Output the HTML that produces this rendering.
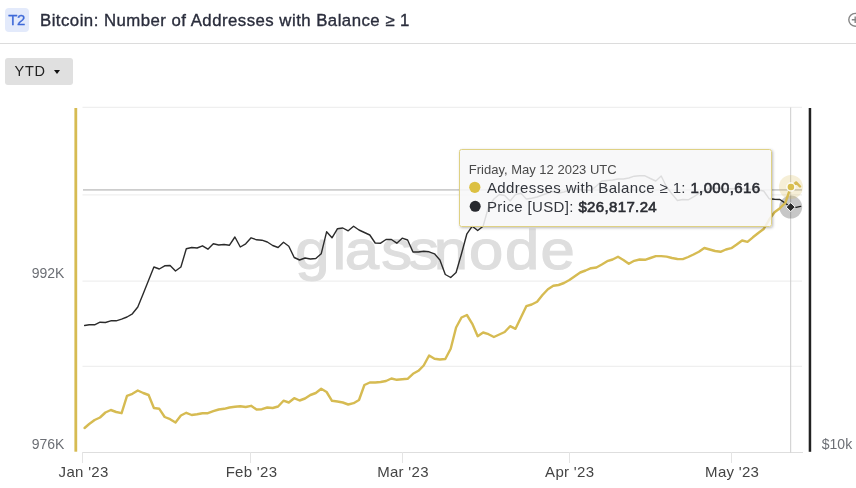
<!DOCTYPE html>
<html lang="en">
<head>
<meta charset="utf-8">
<title>Bitcoin: Number of Addresses with Balance ≥ 1</title>
<style>
html,body{margin:0;padding:0;background:#fff;}
body{width:856px;height:488px;overflow:hidden;position:relative;font-family:"Liberation Sans", Arial, Helvetica, sans-serif;}
.abs{position:absolute;white-space:nowrap;}
#badge{left:5px;top:7.5px;width:24px;height:24px;border-radius:4px;background:#e3eafb;color:#3f6ad8;font-size:15px;line-height:23.4px;text-align:center;letter-spacing:-0.4px;text-indent:-1px;-webkit-text-stroke:0.3px #3f6ad8;}
#title{left:40px;top:10.1px;font-size:16.8px;line-height:22px;color:#2a2d3c;letter-spacing:0.47px;-webkit-text-stroke:0.35px #2a2d3c;}
#rule{left:0;top:43px;width:856px;height:1px;background:#dcdcdc;}
#ytd{left:5px;top:58px;width:68px;height:27px;border-radius:3px;background:#e0e0e0;}
#ytdtxt{left:14.6px;top:62.4px;font-size:14.5px;line-height:19px;color:#222;letter-spacing:0.75px;}
#caret{left:53.5px;top:70px;width:0;height:0;border-left:3px solid transparent;border-right:3px solid transparent;border-top:4px solid #111;}
svg{position:absolute;left:0;top:0;}
svg text{font-family:"Liberation Sans", Arial, Helvetica, sans-serif;}
#tip{left:458.6px;top:148.7px;width:311px;height:75.9px;border:1.6px solid #dfd184;border-radius:2.5px;background:rgba(247,247,248,0.87);box-shadow:1px 1px 3px rgba(0,0,0,0.28);}
.t1{left:468.8px;top:161.8px;font-size:13px;line-height:16px;color:#4a4a4a;letter-spacing:0px;}
.t2{left:487px;top:177.8px;font-size:15px;line-height:19px;color:#33363d;letter-spacing:0.36px;}
.t3{left:487px;top:197.0px;font-size:15px;line-height:19px;color:#33363d;letter-spacing:0.36px;}
.t2 b,.t3 b{color:#2a2c33;font-weight:normal;-webkit-text-stroke:0.6px #2a2c33;}
.dot{width:11px;height:11px;border-radius:50%;}
</style>
</head>
<body>
<div class="abs" id="badge">T2</div>
<div class="abs" id="title">Bitcoin: Number of Addresses with Balance ≥ 1</div>
<div class="abs" id="rule"></div>
<div class="abs" id="ytd"></div>
<div class="abs" id="ytdtxt">YTD</div>
<div class="abs" id="caret"></div>

<svg width="856" height="488" viewBox="0 0 856 488">
  <!-- top-right zoom icon -->
  <g fill="none" stroke="#858585" stroke-width="1.4">
    <circle cx="855.2" cy="19.8" r="6.4"/>
    <path d="M851.8 19.7 H858 M855.2 16.4 V23"/>
  </g>
  <!-- gridlines -->
  <g stroke="#efefef" stroke-width="1.25">
    <path d="M82.5 107.3 H802"/>
    <path d="M82.5 194.9 H802"/>
    <path d="M82.5 281.1 H802"/>
    <path d="M82.5 366.3 H802"/>
  </g>
  <!-- watermark -->
  <text id="wm" x="268.50 302.18 313.32 346.59 371.14 394.36 426.36 459.18 491.36" y="268.8" transform="scale(1.1,1)" font-size="56" fill="#dedede" stroke="#dedede" stroke-width="1.2">glassnode</text>
  <!-- x axis -->
  <g stroke="#dedede" stroke-width="1" shape-rendering="crispEdges">
    <path d="M82 452.5 H803"/>
    <path d="M82.5 452 V463 M250.5 452 V463 M402.5 452 V463 M569.5 452 V463 M731.5 452 V463" stroke="#e4e4e4"/>
  </g>
  <!-- y axes -->
  <rect x="74.4" y="108" width="2.8" height="343.7" fill="#d6bb52"/>
  <rect x="808.7" y="108" width="2.5" height="343.8" fill="#222"/>
  <!-- crosshair -->
  <path d="M83 189.9 H802" stroke="#cdcdcd" stroke-width="1.7"/>
  <path d="M790.7 107.5 V452.5" stroke="#cccccc" stroke-width="1"/>
  <!-- series -->
  <path d="M84.6 325.5 L89.2 324.8 L94.6 324.8 L100.0 322.2 L105.4 322.5 L110.8 320.8 L116.2 320.8 L121.6 319.2 L127.0 317.0 L132.4 313.8 L137.8 307.0 L143.2 293.7 L148.6 280.3 L153.9 267.0 L159.3 269.0 L164.7 265.8 L170.1 265.5 L175.5 271.0 L180.9 267.0 L186.3 248.8 L191.7 247.5 L197.1 248.0 L202.5 245.8 L207.9 249.2 L213.3 243.8 L218.7 245.0 L224.1 244.5 L229.5 245.2 L234.9 237.0 L240.3 247.0 L245.7 243.8 L251.1 237.8 L256.5 239.8 L261.9 240.2 L267.3 242.0 L272.7 245.5 L278.1 247.5 L283.5 242.3 L288.8 246.2 L294.2 257.5 L299.6 260.0 L305.0 258.0 L310.4 259.0 L315.8 258.5 L321.2 253.8 L326.6 231.8 L332.0 237.8 L337.4 228.8 L342.8 228.0 L348.2 230.8 L353.6 226.2 L359.0 230.0 L364.4 232.5 L369.8 235.0 L375.2 243.0 L380.6 243.2 L386.0 239.5 L391.4 239.5 L396.8 243.2 L402.2 238.2 L407.6 240.0 L413.0 252.0 L418.4 252.0 L423.7 251.2 L429.1 251.8 L434.5 253.8 L439.9 260.0 L445.3 274.5 L450.7 277.5 L456.1 272.5 L461.5 253.8 L466.9 233.8 L472.3 226.2 L477.7 230.5 L483.1 226.2 L488.5 207.0 L493.9 199.0 L499.3 194.5 L504.7 195.5 L510.1 201.0 L515.5 194.5 L520.9 193.2 L526.3 199.0 L531.7 198.3 L537.1 197.0 L542.5 195.0 L547.9 193.0 L553.3 191.5 L558.6 193.0 L564.0 192.0 L569.4 190.0 L574.8 188.4 L580.2 189.5 L585.6 190.0 L591.0 190.5 L596.4 186.0 L601.8 181.0 L607.2 180.5 L612.6 180.0 L618.0 179.0 L623.4 179.0 L628.8 178.0 L634.2 176.2 L639.6 175.8 L645.0 175.8 L650.4 178.5 L655.8 181.0 L661.2 176.0 L666.6 187.0 L672.0 194.0 L677.4 200.5 L682.8 199.5 L688.2 199.8 L693.5 196.8 L698.9 193.5 L704.3 190.5 L709.7 188.5 L715.1 188.0 L720.5 188.5 L725.9 189.0 L731.3 188.6 L736.7 189.0 L742.1 188.8 L747.5 189.2 L752.9 189.2 L758.3 190.0 L763.7 191.0 L769.1 198.7 L774.5 199.2 L779.9 199.5 L785.3 203.2 L790.7 207.1 L796.1 207.4 L800.6 206.4" fill="none" stroke="#2b2b2b" stroke-width="1.4" stroke-linejoin="round" stroke-linecap="round"/>
  <circle cx="790.7" cy="207.1" r="11.5" fill="#000" fill-opacity="0.22"/>
  <path d="M84.6 428.0 L89.2 424.0 L94.6 420.0 L100.0 417.5 L105.4 412.5 L110.8 410.0 L116.2 412.0 L121.6 413.2 L127.0 395.8 L132.4 393.8 L137.8 390.5 L143.2 393.0 L148.6 395.0 L153.9 408.0 L159.3 408.8 L164.7 417.0 L170.1 419.2 L175.5 422.5 L180.9 415.5 L186.3 412.8 L191.7 415.0 L197.1 414.2 L202.5 413.2 L207.9 413.2 L213.3 411.2 L218.7 409.5 L224.1 408.8 L229.5 407.5 L234.9 406.8 L240.3 406.2 L245.7 407.0 L251.1 405.8 L256.5 409.5 L261.9 409.2 L267.3 407.5 L272.7 408.0 L278.1 406.5 L283.5 400.7 L288.8 402.5 L294.2 398.2 L299.6 400.5 L305.0 398.5 L310.4 395.0 L315.8 393.0 L321.2 388.8 L326.6 392.0 L332.0 400.8 L337.4 401.5 L342.8 402.5 L348.2 404.5 L353.6 403.2 L359.0 400.0 L364.4 385.0 L369.8 382.5 L375.2 382.5 L380.6 382.0 L386.0 381.0 L391.4 378.5 L396.8 379.8 L402.2 379.2 L407.6 378.8 L413.0 373.8 L418.4 370.8 L423.7 365.5 L429.1 355.5 L434.5 358.8 L439.9 359.5 L445.3 359.0 L450.7 348.8 L456.1 327.5 L461.5 317.5 L466.9 315.0 L472.3 323.8 L477.7 336.2 L483.1 332.5 L488.5 334.2 L493.9 337.0 L499.3 334.5 L504.7 332.0 L510.1 326.2 L515.5 328.8 L520.9 317.5 L526.3 306.2 L531.7 304.5 L537.1 301.8 L542.5 295.0 L547.9 289.2 L553.3 285.8 L558.6 285.0 L564.0 283.0 L569.4 280.0 L574.8 276.2 L580.2 272.5 L585.6 270.5 L591.0 268.2 L596.4 267.5 L601.8 264.5 L607.2 261.2 L612.6 259.5 L618.0 256.8 L623.4 260.0 L628.8 263.8 L634.2 260.8 L639.6 259.5 L645.0 259.8 L650.4 258.0 L655.8 256.1 L661.2 256.1 L666.6 256.6 L672.0 258.0 L677.4 259.0 L682.8 259.1 L688.2 257.0 L693.5 254.5 L698.9 251.8 L704.3 248.0 L709.7 249.5 L715.1 251.0 L720.5 251.8 L725.9 249.5 L731.3 248.2 L736.7 244.5 L742.1 240.5 L747.5 241.8 L752.9 237.3 L758.3 233.0 L763.7 229.0 L769.1 219.8 L774.5 212.2 L779.9 208.2 L785.3 203.0 L790.7 187.1 L796.1 182.4 L800.0 186.5" fill="none" stroke="#d6bb52" stroke-width="2.4" stroke-linejoin="round" stroke-linecap="round"/>
  <circle cx="790.9" cy="187.1" r="12" fill="#d6bb52" fill-opacity="0.23"/>
  <path d="M790.7 202.6 L795.2 207.1 L790.7 211.6 L786.2 207.1 Z" fill="#2b2b2b" stroke="#fff" stroke-width="1"/>
  <circle cx="790.9" cy="187.1" r="4" fill="#d9bf4e" stroke="#fff" stroke-opacity="0.9" stroke-width="1.5"/>
  <!-- axis labels -->
  <g font-size="14" fill="#6c6f75">
    <text x="64.4" y="277.6" text-anchor="end">992K</text>
    <text x="64.4" y="448.7" text-anchor="end">976K</text>
    <text x="821.8" y="449">$10k</text>
  </g>
  <g font-size="15" fill="#444" text-anchor="middle" letter-spacing="0.3">
    <text x="83.6" y="476.8">Jan '23</text>
    <text x="251.5" y="476.8">Feb '23</text>
    <text x="403" y="476.8">Mar '23</text>
    <text x="569.7" y="476.8">Apr '23</text>
    <text x="732.2" y="476.8">May '23</text>
  </g>
</svg>

<div class="abs" id="tip"></div>
<svg width="856" height="488" viewBox="0 0 856 488">
  <circle cx="474.8" cy="187.3" r="5.6" fill="#dcc042"/>
  <circle cx="475.2" cy="206.3" r="5.5" fill="#27292e"/>
</svg>
<div class="abs t1">Friday, May 12 2023 UTC</div>
<div class="abs t2">Addresses with Balance ≥ 1: <b>1,000,616</b></div>
<div class="abs t3">Price [USD]: <b>$26,817.24</b></div>
</body>
</html>
